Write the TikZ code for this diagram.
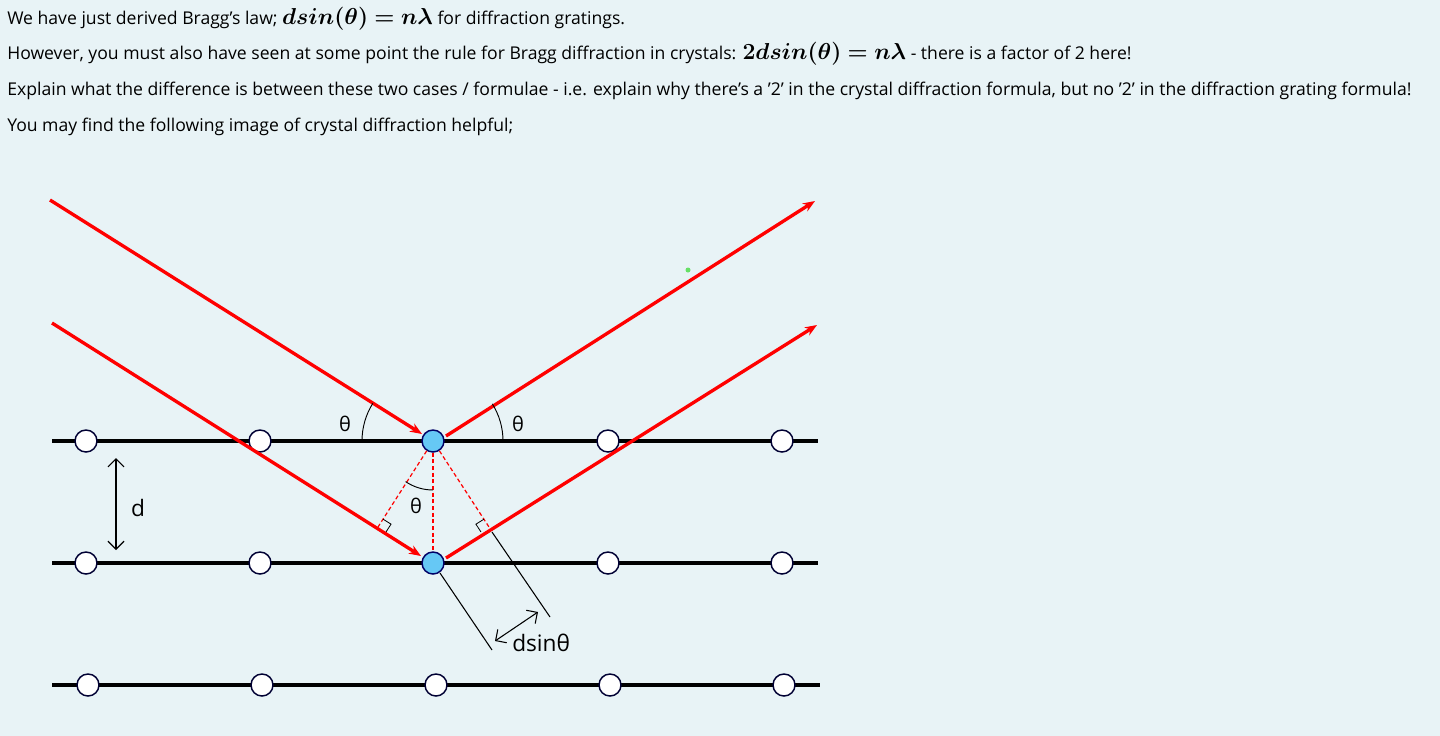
\documentclass[tikz,border=0pt]{standalone}
\usepackage{bm}
\usepackage{fontspec}
\setmainfont{Open Sans}
\setsansfont{Open Sans}
\usetikzlibrary{arrows.meta,calc}
\definecolor{bg}{HTML}{E8F3F6}
\definecolor{hitc}{HTML}{66C8F5}
\newcommand{\bigmath}[1]{{\fontsize{17.5}{15}\selectfont$\bm{#1}$}}
\begin{document}
\begin{tikzpicture}[x=0.75pt,y=-0.75pt,
  txt/.style={anchor=base west,inner sep=0,font=\fontsize{13.2}{15}\selectfont},
  atom/.style={circle,draw=black!80!blue,line width=1.1pt,fill=white,minimum size=16.5pt,inner sep=0},
  hit/.style={atom,fill=hitc,draw=blue!40!black},
  ray/.style={red,line width=2.5pt},
  rayarr/.style={ray,-{Stealth[length=9pt,width=7pt]}},
  dsh/.style={red,dashed,line width=0.9pt,dash pattern=on 3pt off 2pt},
  lbl/.style={font=\fontsize{15}{17}\selectfont,inner sep=0}]
\fill[bg] (0,0) rectangle (1440,736);
\node[txt] (t1) at (7,24) {We have just derived Bragg's law; \bigmath{dsin(\theta)=n\lambda} for diffraction gratings.};
\node[txt] (t2) at (7,59) {However, you must also have seen at some point the rule for Bragg diffraction in crystals: \bigmath{2dsin(\theta)=n\lambda} - there is a factor of 2 here!};
\node[txt] (t3) at (7,95) {Explain what the difference is between these two cases / formulae - i.e. explain why there's a '2' in the crystal diffraction formula, but no '2' in the diffraction grating formula!};
\node[txt] (t4) at (7,131) {You may find the following image of crystal diffraction helpful;};
% lattice lines
\foreach \y in {441,563} \draw[line width=2.5pt] (52,\y) -- (818,\y);
\draw[line width=2.5pt] (52,685) -- (820,685);
\coordinate (i1) at (50,200); \coordinate (i2) at (52,323);
\coordinate (o1) at (815,201); \coordinate (o2) at (817,325);
% atoms
\foreach \x/\n in {86/a1,260/a2,608/a4,782/a5} \node[atom] (\n) at (\x,441) {};
\foreach \x/\n in {86/b1,260/b2,608/b4,782/b5} \node[atom] (\n) at (\x,563) {};
\foreach \x/\n in {88/c1,262/c2,436/c3,610/c4,784/c5} \node[atom] (\n) at (\x,685) {};
\draw[rayarr] (i1) -- (422,434);
\draw[rayarr] (i2) -- (421,556);
\draw[rayarr] (446,436) -- (o1);
\draw[rayarr] (446,558) -- (o2);
\node[hit] (A) at (433,441) {};
\node[hit] (B) at (433,563) {};
% dashed construction
\coordinate (fl) at (378,527); \coordinate (fr) at (489,527);
\draw[dsh] (A) -- (B);
\draw[dsh] (A) -- (fl);
\draw[dsh] (A) -- (fr);
% right-angle marks
\draw[line width=0.6pt] ($(fl)!7pt!(A)$) -- ++(8,5) -- ($(fl)+(8,5)$);
\draw[line width=0.6pt] ($(fr)!7pt!(A)$) -- ++(-8,5) -- ($(fr)+(-8,5)$);
% angle arcs
\draw[line width=0.7pt] (362,441) arc[start angle=180,end angle=212,radius=71];
\draw[line width=0.7pt] (503,441) arc[start angle=0,end angle=-32,radius=70];
\draw[line width=0.7pt] (433,490) arc[start angle=90,end angle=124,radius=49];
\node[lbl] (th1) at (345,424) {θ};
\node[lbl] (th2) at (518,424) {θ};
\node[lbl] (th3) at (416,506) {θ};
% dsin lines
\coordinate (p1) at (440,573); \coordinate (p2) at (492,650);
\coordinate (q1) at (492,532); \coordinate (q2) at (550,617);
\draw[line width=0.8pt] (p1) -- (p2);
\draw[line width=0.8pt] (q1) -- (q2);
\coordinate (s1) at (495,641); \coordinate (s2) at (538,612);
\draw[line width=0.8pt,{Straight Barb[length=6pt]}-{Straight Barb[length=6pt]}] (s1) -- (s2);
\node[lbl,anchor=west,font=\fontsize{17}{19}\selectfont] (ds) at (512,643) {dsinθ};
% d
\draw[line width=0.9pt,{Straight Barb[length=6pt]}-{Straight Barb[length=6pt]}] (116,458) -- (116,550);
\node[lbl,font=\fontsize{17}{19}\selectfont] (dl) at (138,508) {d};
\fill[green!80!black!60] (688,270) circle (2.5);
\end{tikzpicture}
\end{document}
